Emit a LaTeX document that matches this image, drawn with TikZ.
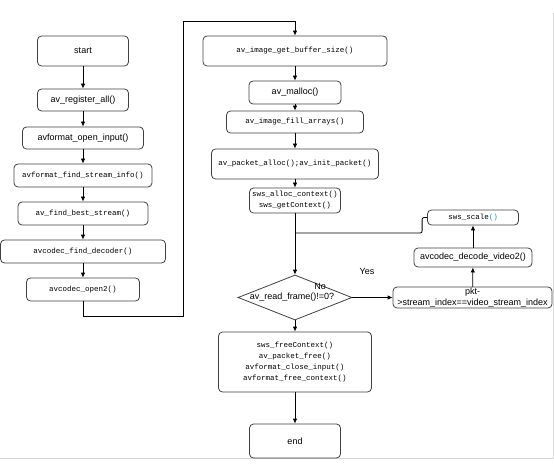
\documentclass[tikz,border=0pt]{standalone}
\usepackage{fontspec}
\setmainfont{Liberation Sans}
\setmonofont{Liberation Mono}
\usetikzlibrary{arrows.meta,shapes.geometric}
\definecolor{framegray}{RGB}{215,215,215}
\definecolor{callblue}{RGB}{45,135,175}

\begin{document}
\begin{tikzpicture}[x=1pt,y=-1pt,
    every node/.append style={align=center,inner sep=0pt},
    box/.style={draw=black!75,line width=0.8pt,rounded corners=4pt,font=\fontsize{9}{11}\selectfont},
    code/.style={box,font=\fontsize{7.5}{11}\selectfont\ttfamily},
    decision/.style={diamond,draw=black!75,line width=0.8pt,aspect=2.5},
    flow/.style={-{Latex[length=5pt,width=4.5pt]},line width=0.8pt}]
    \useasboundingbox (0,0) rectangle (554,465);
    \draw[framegray] (0,458) -- (553,458) -- (553,13);
    % init column
    \node[box,minimum width=91,minimum height=30]   (start)    at (83,51)    {start};
    \node[box,minimum width=91,minimum height=22]   (reg)      at (83,100)   {av\_register\_all()};
    \node[box,minimum width=121,minimum height=22]  (openin)   at (83,138)   {avformat\_open\_input()};
    \node[code,minimum width=138,minimum height=23] (findinfo) at (83,175.5) {avformat\_find\_stream\_info()};
    \node[code,minimum width=130,minimum height=23] (best)     at (83,213.5) {av\_find\_best\_stream()};
    \node[code,minimum width=165,minimum height=23] (finddec)  at (83,251.5) {avcodec\_find\_decoder()};
    \node[code,minimum width=113,minimum height=23] (open2)    at (83,289.5) {avcodec\_open2()};
    % buffers and loop
    \node[code,minimum width=184,minimum height=30] (bufsize)  at (295,51)   {av\_image\_get\_buffer\_size()};
    \node[box,minimum width=92,minimum height=23]   (malloc)   at (295,92.5) {av\_malloc()};
    \node[code,minimum width=137,minimum height=22] (fill)     at (295,122)  {av\_image\_fill\_arrays()};
    \node[code,minimum width=167,minimum height=30] (pktalloc) at (295,164)  {av\_packet\_alloc();av\_init\_packet()};
    \node[code,minimum width=91,minimum height=25]  (swsctx)   at (295,200.5) {sws\_alloc\_context()\\sws\_getContext()};
    \node[decision,minimum width=114,minimum height=45] (read) at (295,297.5) {};
    \node[font=\fontsize{9}{11}\selectfont] (readtxt) at (292,297.5) {av\_read\_frame()!=0?};
    \node[font=\fontsize{9}{11}\selectfont] (nolbl)   at (320,286)   {No};
    \node[font=\fontsize{9}{11}\selectfont] (yeslbl)  at (367,271)   {Yes};
    \node[code,minimum width=153,minimum height=60] (cleanup)  at (295,362)  {sws\_freeContext()\\av\_packet\_free()\\avformat\_close\_input()\\avformat\_free\_context()};
    \node[box,minimum width=91,minimum height=34]   (finish)   at (295,441)  {end};
    % decode branch
    \node[box,minimum width=159,minimum height=21]  (pkt)      at (472.5,297.5) {pkt-\\>stream\_index==video\_stream\_index};
    \node[box,minimum width=118,minimum height=19]  (decode)   at (473,257.5) {avcodec\_decode\_video2()};
    \node[code,minimum width=91,minimum height=15]  (scale)    at (473,217.5) {sws\_scale\textcolor{callblue}{()}};
    \coordinate (lowturn)  at (183,316);
    \coordinate (highturn) at (183,21);
    \coordinate (loopjoin) at (295,233);
    \draw[flow] (start) -- (reg);
    \draw[flow] (reg) -- (openin);
    \draw[flow] (openin) -- (findinfo);
    \draw[flow] (findinfo) -- (best);
    \draw[flow] (best) -- (finddec);
    \draw[flow] (finddec) -- (open2);
    \draw[flow] (open2.south) |- (lowturn) -- (highturn) -| (bufsize.north);
    \draw[flow] (bufsize) -- (malloc);
    \draw[flow] (malloc) -- (fill);
    \draw[flow] (fill) -- (pktalloc);
    \draw[flow] (pktalloc) -- (swsctx);
    \draw[flow] (swsctx) -- (read.north);
    \draw[flow] (read.east) -- (pkt.west);
    \draw[flow] (pkt) -- (decode);
    \draw[flow] (decode) -- (scale);
    \draw[line width=0.8pt,rounded corners=2pt] (scale.west) -- ++(-5,0) |- (loopjoin);
    \draw[flow] (read.south) -- (cleanup);
    \draw[flow] (cleanup) -- (finish);
\end{tikzpicture}
\end{document}
